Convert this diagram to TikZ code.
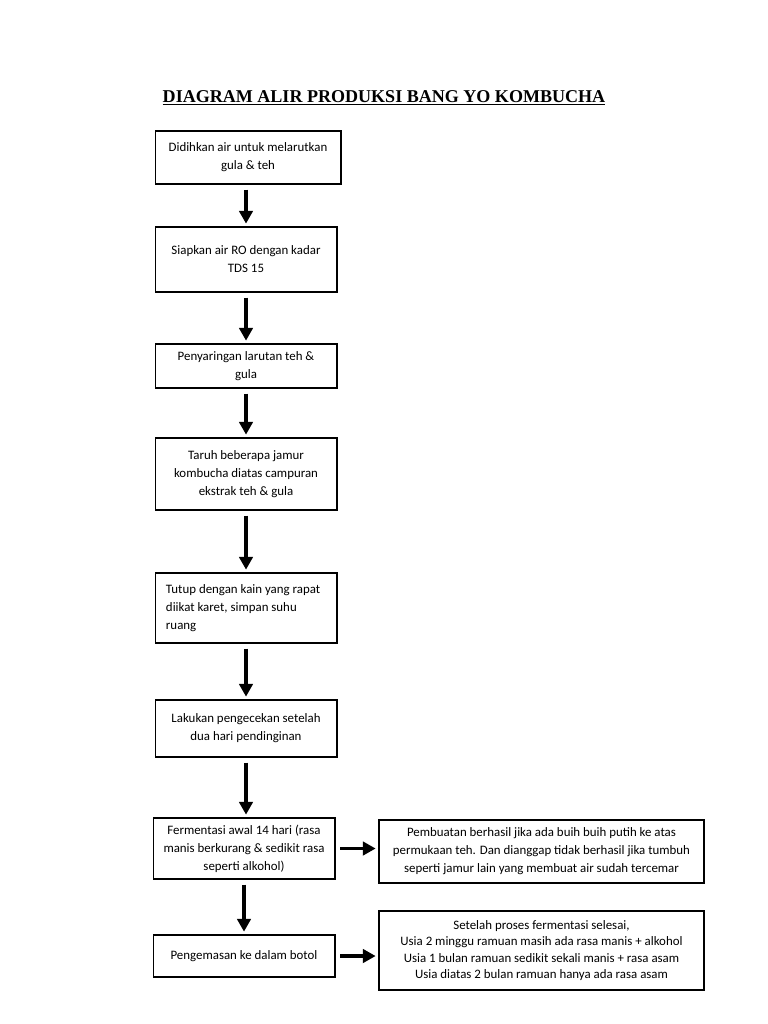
\documentclass[tikz,border=0pt]{standalone}
\usepackage{fontspec}
\setmainfont{Carlito}
\newfontfamily\titlefont{Liberation Serif}
\usetikzlibrary{arrows.meta}

\tikzset{
  stepbox/.style={draw, line width=1.7pt, minimum width=5.43cm, align=center,
    inner sep=0pt, font=\fontsize{11}{15.4}\selectfont},
  notebox/.style={stepbox, minimum width=9.75cm},
  flow/.style={line width=3pt, -{Triangle[width=11.5pt,length=11pt]},
    shorten <=4pt, shorten >=2pt}
}

\begin{document}
\begin{tikzpicture}[x=0.03cm, y=-0.03cm]
    % page frame
    \useasboundingbox (0,0) rectangle (768,1024);

    % Title
    \node (title) at (384,98) {\titlefont\fontsize{15.4}{17}\selectfont\underline{\textbf{DIAGRAM ALIR PRODUKSI BANG YO KOMBUCHA}}};

    % Steps of the process
    \node[stepbox, minimum width=5.55cm, minimum height=1.59cm] (didih) at (248,157.5) {Didihkan air untuk melarutkan\\gula \& teh};
    \node[stepbox, minimum height=1.95cm] (ro) at (246,259.5) {Siapkan air RO dengan kadar\\TDS 15};
    \node[stepbox, minimum height=1.32cm] (saring) at (246,366) {Penyaringan larutan teh \&\\gula};
    \node[stepbox, minimum height=2.16cm] (jamur) at (246,474) {Taruh beberapa jamur\\kombucha diatas campuran\\ekstrak teh \& gula};
    \node[stepbox, minimum height=2.1cm, align=flush left, text width=4.8cm] (tutup) at (246,608) {Tutup dengan kain yang rapat\\diikat karet, simpan suhu\\ruang};
    \node[stepbox, minimum height=1.71cm] (cek) at (246,728.5) {Lakukan pengecekan setelah\\dua hari pendinginan};
    \node[stepbox, minimum height=1.83cm] (ferm) at (244,848.5) {Fermentasi awal 14 hari (rasa\\manis berkurang \& sedikit rasa\\seperti alkohol)};
    \node[stepbox, minimum height=1.26cm] (kemas) at (244,956) {Pengemasan ke dalam botol};

    % Notes on the right
    \node[notebox, minimum height=1.89cm] (hasil) at (541.5,851.5) {Pembuatan berhasil jika ada buih buih putih ke atas\\permukaan teh. Dan dianggap tidak berhasil jika tumbuh\\seperti jamur lain yang membuat air sudah tercemar};
    \node[notebox, minimum height=2.37cm, font=\fontsize{11}{14}\selectfont] (usia) at (541.5,950.5) {Setelah proses fermentasi selesai,\\Usia 2 minggu ramuan masih ada rasa manis + alkohol\\Usia 1 bulan ramuan sedikit sekali manis + rasa asam\\Usia diatas 2 bulan ramuan hanya ada rasa asam};

    % Arrows
    \draw[flow] (didih.south -| ro) -- (ro.north);
    \draw[flow] (ro.south) -- (saring.north);
    \draw[flow] (saring.south) -- (jamur.north);
    \draw[flow] (jamur.south) -- (tutup.north);
    \draw[flow] (tutup.south) -- (cek.north);
    \draw[flow] (cek.south) -- (ferm.north -| cek);
    \draw[flow] (ferm.south) -- (kemas.north);
    \draw[flow] (ferm.east) -- (hasil.west |- ferm.east);
    \draw[flow] (kemas.east) -- (usia.west |- kemas.east);

\end{tikzpicture}
\end{document}
